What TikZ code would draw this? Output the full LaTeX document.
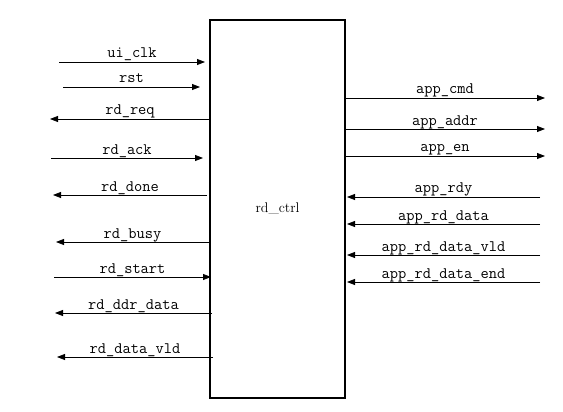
\documentclass[tikz,border=0pt]{standalone}
\usepackage{tikz}
\usetikzlibrary{arrows.meta}

\tikzset{
	sig/.style={font=\fontsize{16}{18}\selectfont\ttfamily, anchor=base, yshift=4pt, inner sep=0pt},
	port/.style={line width=0.8pt, -{Triangle[length=8pt,width=6pt]}}
}

\begin{document}
\begin{tikzpicture}[x=1pt, y=-1pt]

	\useasboundingbox (0,0) rectangle (563,412);

	% main block
	\node[draw, line width=1.6pt, minimum width=135pt, minimum height=378pt, font=\fontsize{14}{16}\selectfont] (ctrl) at (277.5,209) {rd\_ctrl};

	% left side ports
	\coordinate (clkA) at (59,62);    \coordinate (clkB) at (205,62);
	\coordinate (rstA) at (63,87);    \coordinate (rstB) at (200,87);
	\coordinate (reqA) at (210,119);  \coordinate (reqB) at (50,119);
	\coordinate (ackA) at (51,158);   \coordinate (ackB) at (203,158);
	\coordinate (doneA) at (207,195); \coordinate (doneB) at (53,195);
	\coordinate (busyA) at (209,242); \coordinate (busyB) at (56,242);
	\coordinate (startA) at (54,277); \coordinate (startB) at (211,277);
	\coordinate (ddrA) at (212,313);  \coordinate (ddrB) at (55,313);
	\coordinate (vldA) at (213,357);  \coordinate (vldB) at (57,357);

	\draw[port] (clkA) -- node[sig] {ui\_clk} (clkB);
	\draw[port] (rstA) -- node[sig] {rst} (rstB);
	\draw[port] (reqA) -- node[sig] {rd\_req} (reqB);
	\draw[port] (ackA) -- node[sig] {rd\_ack} (ackB);
	\draw[port] (doneA) -- node[sig] {rd\_done} (doneB);
	\draw[port] (busyA) -- node[sig] {rd\_busy} (busyB);
	\draw[port] (startA) -- node[sig] {rd\_start} (startB);
	\draw[port] (ddrA) -- node[sig] {rd\_ddr\_data} (ddrB);
	\draw[port] (vldA) -- node[sig] {rd\_data\_vld} (vldB);

	% right side ports
	\coordinate (cmdA) at (345,98);    \coordinate (cmdB) at (545,98);
	\coordinate (addrA) at (345,129);  \coordinate (addrB) at (545,129);
	\coordinate (enA) at (345,156);    \coordinate (enB) at (545,156);
	\coordinate (rdyA) at (540,197);   \coordinate (rdyB) at (347,197);
	\coordinate (rdatA) at (540,224);  \coordinate (rdatB) at (347,224);
	\coordinate (rvldA) at (540,255);  \coordinate (rvldB) at (347,255);
	\coordinate (rendA) at (540,282);  \coordinate (rendB) at (347,282);

	\draw[port] (cmdA) -- node[sig] {app\_cmd} (cmdB);
	\draw[port] (addrA) -- node[sig] {app\_addr} (addrB);
	\draw[port] (enA) -- node[sig] {app\_en} (enB);
	\draw[port] (rdyA) -- node[sig] {app\_rdy} (rdyB);
	\draw[port] (rdatA) -- node[sig] {app\_rd\_data} (rdatB);
	\draw[port] (rvldA) -- node[sig] {app\_rd\_data\_vld} (rvldB);
	\draw[port] (rendA) -- node[sig] {app\_rd\_data\_end} (rendB);

\end{tikzpicture}
\end{document}
